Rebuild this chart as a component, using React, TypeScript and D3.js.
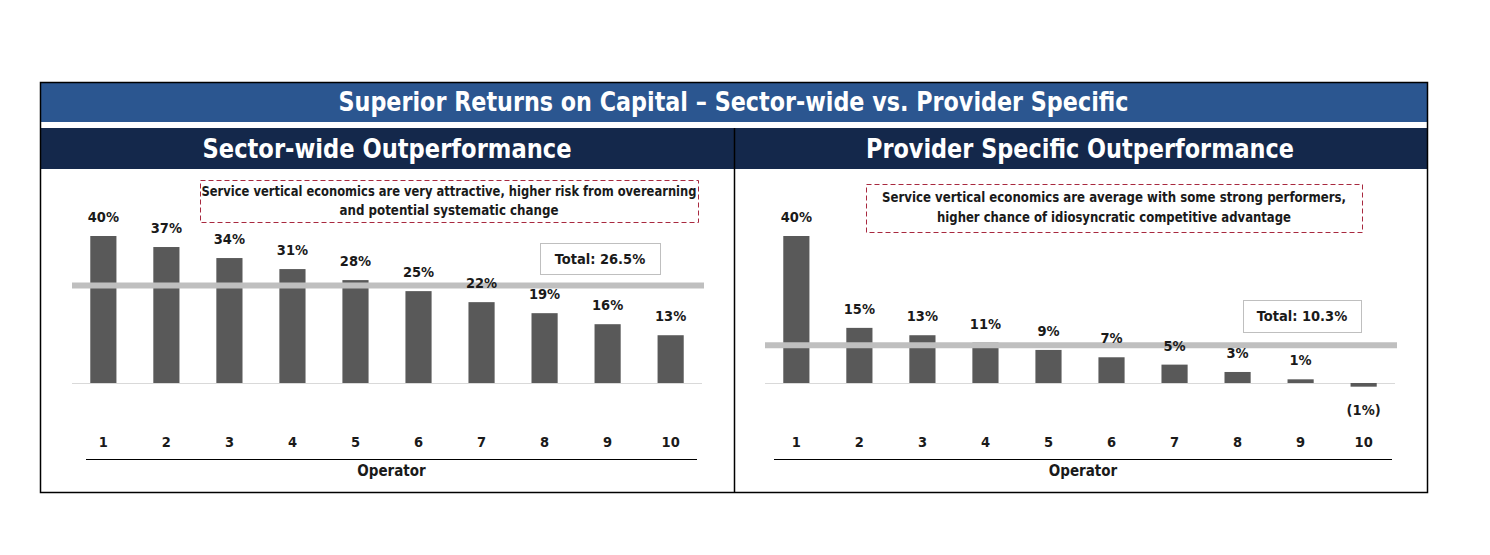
import React from 'react';
import * as d3 from 'd3';

// Operator returns on capital, %
const operators = ['1', '2', '3', '4', '5', '6', '7', '8', '9', '10'];
const sectorReturns = [40, 37, 34, 31, 28, 25, 22, 19, 16, 13];
const providerReturns = [40, 15, 13, 11, 9, 7, 5, 3, 1, -1];
const sectorTotal = 26.5;
const providerTotal = 10.3;

const titleText = 'Superior Returns on Capital \u2013 Sector-wide vs. Provider Specific';
const sectorHeader = 'Sector-wide Outperformance';
const providerHeader = 'Provider Specific Outperformance';
const sectorNote = [
  'Service vertical economics are very attractive, higher risk from overearning',
  'and potential systematic change',
];
const providerNote = [
  'Service vertical economics are average with some strong performers,',
  'higher chance of idiosyncratic competitive advantage',
];

const FONT = '"Liberation Sans Narrow", "DejaVu Sans Condensed", Arial, sans-serif';
const BAR = '#595959';
const AVG = '#BFBFBF';

const W = 1490;
const H = 555;

const fmtPct = (v: number) => (v < 0 ? `(${Math.abs(v)}%)` : `${v}%`);

interface PanelProps {
  values: number[];
  total: number;
  note: string[];
  x0: number;
  x1: number;
  noteBox: { x: number; y: number; w: number; h: number; lines: number[]; widths: number[] };
  totalBox: { x: number; y: number; w: number; h: number };
  axisX: [number, number];
}

const Panel: React.FC<PanelProps> = ({ values, total, note, x0, x1, noteBox, totalBox, axisX }) => {
  const x = d3.scaleBand<string>().domain(operators).range([x0, x1]).paddingInner(0.585).paddingOuter(0.29);
  const y = d3.scaleLinear().domain([0, 40]).range([383, 236]);
  const bw = x.bandwidth();
  const cx = (i: number) => (x(operators[i]) as number) + bw / 2;

  return (
    <g>
      {/* baseline */}
      <line x1={x0} x2={x1} y1={y(0) + 0.5} y2={y(0) + 0.5} stroke="#D9D9D9" strokeWidth={1} />
      {values.map((v, i) => (
        <rect
          key={i}
          x={x(operators[i])}
          width={bw}
          y={Math.min(y(v), y(0))}
          height={Math.abs(y(v) - y(0))}
          fill={BAR}
        />
      ))}
      {/* average line */}
      <line x1={x0} x2={x1 + 2} y1={y(total)} y2={y(total)} stroke={AVG} strokeWidth={6} />

      {values.map((v, i) => (
        <text
          key={i}
          x={cx(i)}
          y={v >= 0 ? y(v) - 14 : y(v) + 28}
          textAnchor="middle"
          fontSize={14.5}
          fontWeight="bold"
          fill="#1a1a1a"
        >
          {fmtPct(v)}
        </text>
      ))}
      {operators.map((c, i) => (
        <text key={c} x={cx(i)} y={447} textAnchor="middle" fontSize={14.5} fontWeight="bold" fill="#1a1a1a">
          {c}
        </text>
      ))}

      {/* category axis */}
      <line x1={axisX[0]} x2={axisX[1]} y1={459.5} y2={459.5} stroke="#000" strokeWidth={1.2} />
      <text x={(axisX[0] + axisX[1]) / 2} y={476} textAnchor="middle" fontSize={15} fontWeight="bold" fill="#1a1a1a">
        Operator
      </text>

      {/* commentary box */}
      <rect
        x={noteBox.x + 0.5}
        y={noteBox.y + 0.5}
        width={noteBox.w}
        height={noteBox.h}
        fill="#fff"
        stroke="#A8293F"
        strokeWidth={1}
        strokeDasharray="5,3"
      />
      {note.map((t, i) => (
        <text
          key={i}
          x={noteBox.x + noteBox.w / 2}
          y={noteBox.lines[i]}
          textAnchor="middle"
          fontSize={13.5}
          fontWeight="bold"
          fill="#1a1a1a"
          textLength={noteBox.widths[i]}
          lengthAdjust="spacingAndGlyphs"
        >
          {t}
        </text>
      ))}

      {/* total callout */}
      <rect x={totalBox.x + 0.5} y={totalBox.y + 0.5} width={totalBox.w} height={totalBox.h} fill="#fff" stroke="#BFBFBF" strokeWidth={1} />
      <text
        x={totalBox.x + totalBox.w / 2}
        y={totalBox.y + totalBox.h / 2 + 5}
        textAnchor="middle"
        fontSize={14.5}
        fontWeight="bold"
        fill="#1a1a1a"
      >
        {`Total: ${total}%`}
      </text>
    </g>
  );
};

export default function App() {
  return (
    <svg
      width={W}
      height={H}
      style={{ position: 'absolute', left: 0, top: 0, background: '#fff' }}
      fontFamily={FONT}
    >
      <rect x={0} y={0} width={W} height={H} fill="#fff" />

      {/* header bars */}
      <rect x={41} y={83} width={1386} height={39} fill="#2B5690" />
      <text x={733.5} y={111} textAnchor="middle" fontSize={26} fontWeight="bold" fill="#fff"
        textLength={790} lengthAdjust="spacingAndGlyphs">
        {titleText}
      </text>
      <rect x={41} y={128} width={1386} height={41} fill="#14284B" />
      <text x={387} y={158} textAnchor="middle" fontSize={26} fontWeight="bold" fill="#fff"
        textLength={369} lengthAdjust="spacingAndGlyphs">
        {sectorHeader}
      </text>
      <text x={1080} y={158} textAnchor="middle" fontSize={26} fontWeight="bold" fill="#fff"
        textLength={428} lengthAdjust="spacingAndGlyphs">
        {providerHeader}
      </text>

      <Panel
        values={sectorReturns}
        total={sectorTotal}
        note={sectorNote}
        x0={72}
        x1={702}
        axisX={[86, 697]}
        noteBox={{ x: 200, y: 180, w: 498, h: 42, lines: [196, 215], widths: [495, 219] }}
        totalBox={{ x: 540, y: 243, w: 120, h: 31 }}
      />
      <Panel
        values={providerReturns}
        total={providerTotal}
        note={providerNote}
        x0={765}
        x1={1395}
        axisX={[774, 1392]}
        noteBox={{ x: 866, y: 184, w: 496, h: 48, lines: [202, 222], widths: [464, 354] }}
        totalBox={{ x: 1243, y: 300, w: 118, h: 32 }}
      />

      {/* frame */}
      <rect x={40.5} y={82.5} width={1387} height={410} fill="none" stroke="#000" strokeWidth={1.5} />
      <line x1={734.5} x2={734.5} y1={128} y2={492} stroke="#000" strokeWidth={1.5} />
    </svg>
  );
}
